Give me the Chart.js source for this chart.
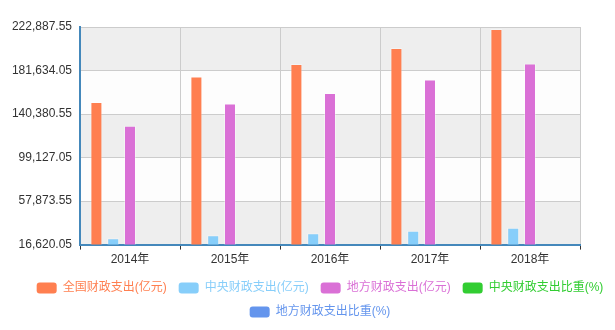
<!DOCTYPE html>
<html>
<head>
<meta charset="utf-8">
<script src="https://cdn.jsdelivr.net/npm/chart.js@4/dist/chart.umd.min.js"></script>
<style>
  body { margin: 0; background: #fff; }
</style>
</head>
<body>
<canvas id="myChart" width="615" height="330"></canvas>
<script>
// data
var years = ['2014年', '2015年', '2016年', '2017年', '2018年'];
var totalSpend = [151785.56, 175877.77, 187755.21, 203085.49, 220904.13];
var centralSpend = [22570.07, 25542.15, 27403.85, 29857.15, 32707.81];
var localSpend = [129215.49, 150335.62, 160351.36, 173228.34, 188196.32];
var centralShare = [14.87, 14.52, 14.60, 14.70, 14.80];
var localShare = [85.13, 85.48, 85.40, 85.30, 85.20];
var yTicks = [16620.05, 57873.55, 99127.05, 140380.55, 181634.05, 222887.55];

var seriesNames = ['全国财政支出(亿元)', '中央财政支出(亿元)', '地方财政支出(亿元)', '中央财政支出比重(%)', '地方财政支出比重(%)'];
var seriesColors = ['#ff7f50', '#87cefa', '#da70d6', '#32cd32', '#6495ed'];
var seriesData = [totalSpend, centralSpend, localSpend, centralShare, localShare];

var FONT = '"Liberation Sans", "Noto Sans CJK SC", sans-serif';

// alternating bands behind the grid
var bandsPlugin = {
    id: 'bands',
    afterLayout: function (chart) {
        // legend in the original sits a bit right of the canvas centre
        chart.legend.left += 20;
        chart.legend.right += 5;
    },
    beforeDraw: function (chart) {
        var ctx = chart.ctx;
        var area = chart.chartArea;
        var y = chart.scales.y;
        for (var i = 0; i < yTicks.length - 1; i++) {
            var top = y.getPixelForValue(yTicks[i + 1]);
            var bottom = y.getPixelForValue(yTicks[i]);
            ctx.fillStyle = i % 2 === 0 ? '#eeeeee' : '#fdfdfd';
            ctx.fillRect(area.left, top, area.right - area.left, bottom - top);
        }
    }
};

var datasets = seriesNames.map(function (name, i) {
    return {
        label: name,
        data: seriesData[i],
        backgroundColor: seriesColors[i],
        borderColor: 'rgba(255,255,255,0.35)',
        borderWidth: 1,
        borderSkipped: 'bottom',
        categoryPercentage: 0.84,
        barPercentage: 0.714,
        clip: 0
    };
});

var ctx = document.getElementById('myChart').getContext('2d');
var myChart = new Chart(ctx, {
    type: 'bar',
    data: { labels: years, datasets: datasets },
    plugins: [bandsPlugin],
    options: {
        responsive: false,
        animation: false,
        layout: { padding: { left: 0, right: 0, top: 27, bottom: 2 } },
        scales: {
            x: {
                grid: { color: '#cccccc', tickColor: '#333333', tickLength: 5, offset: true },
                border: { color: '#4488bb', width: 2 },
                ticks: { color: '#333333', font: { family: FONT, size: 12 }, padding: 3 }
            },
            y: {
                min: yTicks[0],
                max: yTicks[yTicks.length - 1],
                afterBuildTicks: function (scale) {
                    scale.ticks = yTicks.map(function (v) { return { value: v }; });
                },
                afterFit: function (scale) { scale.width = 80; },
                grid: { color: '#cccccc', drawTicks: false },
                border: { color: '#4488bb', width: 2 },
                ticks: {
                    color: '#333333',
                    font: { family: FONT, size: 12 },
                    padding: 8,
                    callback: function (v) {
                        return Number(v).toLocaleString('en-US', { minimumFractionDigits: 2, maximumFractionDigits: 2 });
                    }
                }
            },
            yRight: {
                position: 'right',
                display: true,
                grid: { display: false },
                border: { display: false },
                ticks: { display: false },
                afterFit: function (scale) { scale.width = 35; }
            }
        },
        plugins: {
            legend: {
                display: true,
                position: 'bottom',
                labels: {
                    boxWidth: 20,
                    boxHeight: 11,
                    padding: 12,
                    useBorderRadius: true,
                    borderRadius: 3,
                    font: { family: FONT, size: 12 },
                    generateLabels: function (chart) {
                        var items = Chart.defaults.plugins.legend.labels.generateLabels(chart);
                        items.forEach(function (item) {
                            item.fontColor = item.fillStyle;
                            item.strokeStyle = item.fillStyle;
                            item.lineWidth = 0;
                        });
                        return items;
                    }
                }
            },
            tooltip: { enabled: false }
        }
    }
});
</script>
</body>
</html>
